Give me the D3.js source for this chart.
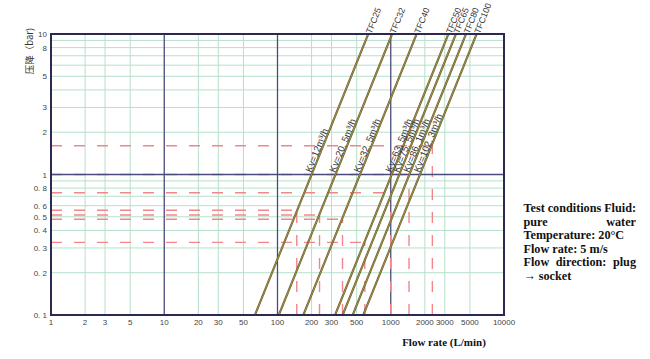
<!DOCTYPE html>
<html><head><meta charset="utf-8">
<script src="https://cdn.jsdelivr.net/npm/d3@7"></script>
<style>
html,body{margin:0;padding:0;background:#fff;}
svg{display:block;}
</style></head>
<body>
<svg id="c" width="650" height="359"></svg>
<script>
// ---- data ----
const series = ["TFC25","TFC32","TFC40","TFC50","TFC65","TFC80","TFC100"];
const kvLabels = ["Kv=12m³/h","Kv=20. 5m³/h","Kv=32. 5m³/h","Kv=63. 5m³/h","Kv=75. 5m³/h","Kv=86. 1m³/h","Kv=102. 3m³/h"];
// flow (L/min) at which each curve reaches 1 bar
const flowAt1bar = [200, 325, 535, 1020, 1190, 1460, 1810];
// rated flow (L/min) at 5 m/s and the pressure drop read at that point
const ratedFlow = [148, 235, 375, 590, 1000, 1450, 2330];
const ratedDrop = [0.556, 0.515, 0.48, 0.329, 0.742, 1.0, 1.6];
const xTickVals = [1,2,3,5,10,20,30,50,100,200,300,500,1000,2000,3000,5000,10000];
const xTickLabels = ["1","2","3","5","10","20","30","50","100","200","300","500","1000","2000","3000","5000","10000"];
const yTickVals = [0.1,0.2,0.3,0.4,0.5,0.6,0.8,1,2,3,5,8,10];
const yTickLabels = ["0. 1","0. 2","0. 3","0. 4","0. 5","0. 6","0. 8","1","2","3","5","8","10"];
const xMinorGrid = [2,3,5,20,30,50,200,300,500,2000,3000,5000];
const xMajorGrid = [10,100,1000];
const yMinorGrid = [0.2,0.3,0.4,0.5,0.6,0.7,0.8,0.9,2,3,4,5,6,7,8,9];
const yMajorGrid = [1];
const notes = [
  {words:["Test","conditions","Fluid:"], justify:true},
  {words:["pure","water"], justify:true},
  {words:["Temperature: 20°C"], justify:false},
  {words:["Flow rate: 5 m/s"], justify:false},
  {words:["Flow","direction:","plug"], justify:true},
  {words:["→ socket"], justify:false}
];

// ---- layout ----
const L=51, R=504, T=34, B=315;
const x = d3.scaleLog().domain([1,10000]).range([L,R]);
const y = d3.scaleLog().domain([0.1,10]).range([B,T]);
const svg = d3.select("#c");

svg.append("clipPath").attr("id","clip").append("rect").attr("x",L).attr("y",T).attr("width",R-L).attr("height",B-T);

const grid = svg.append("g");
grid.selectAll(".vg").data(xMinorGrid).enter().append("line")
  .attr("x1",d=>x(d)).attr("x2",d=>x(d)).attr("y1",T).attr("y2",B)
  .attr("stroke","#b6e0ca").attr("stroke-width",1);
grid.selectAll(".hg").data(yMinorGrid).enter().append("line")
  .attr("y1",d=>y(d)).attr("y2",d=>y(d)).attr("x1",L).attr("x2",R)
  .attr("stroke","#b6e0ca").attr("stroke-width",1);

// red dashed guide lines
const guides = svg.append("g").attr("clip-path","url(#clip)");
ratedFlow.forEach((q,i)=>{
  guides.append("line").attr("x1",x(1)).attr("x2",x(q)).attr("y1",y(ratedDrop[i])).attr("y2",y(ratedDrop[i]))
    .attr("stroke","#f2868b").attr("stroke-width",1.4).attr("stroke-dasharray","11,12");
  guides.append("line").attr("x1",x(q)).attr("x2",x(q)).attr("y1",y(0.1)).attr("y2",y(ratedDrop[i]))
    .attr("stroke","#f2868b").attr("stroke-width",1.4).attr("stroke-dasharray","11,12");
});

grid.selectAll(".vM").data(xMajorGrid).enter().append("line")
  .attr("x1",d=>x(d)).attr("x2",d=>x(d)).attr("y1",T).attr("y2",B)
  .attr("stroke","#4b4a7c").attr("stroke-width",1.3);
svg.append("g").selectAll("line").data(yMajorGrid).enter().append("line")
  .attr("y1",d=>y(d)).attr("y2",d=>y(d)).attr("x1",L).attr("x2",R)
  .attr("stroke","#4b4a7c").attr("stroke-width",1.3);

// curves: dP = (Q/Q1)^2
const line = d3.line().x(d=>x(d[0])).y(d=>y(d[1]));
const curves = svg.append("g").attr("clip-path","url(#clip)");
flowAt1bar.forEach((q1,i)=>{
  const pts = [[q1*Math.sqrt(0.1),0.1],[q1*Math.sqrt(10),10]];
  curves.append("path").attr("d",line(pts)).attr("fill","none")
    .attr("stroke","#6a5c2b").attr("stroke-width",2.1);
  curves.append("path").attr("d",line(pts)).attr("fill","none")
    .attr("stroke","#a6964e").attr("stroke-width",0.9);
});

// frame
svg.append("rect").attr("x",L).attr("y",T).attr("width",R-L).attr("height",B-T)
  .attr("fill","none").attr("stroke","#2b2950").attr("stroke-width",2);

// slope angle
const ang = Math.atan2(y(0.1)-y(10), x(10)-x(1)) * 180/Math.PI; // ~68
// TFC labels at top
flowAt1bar.forEach((q1,i)=>{
  const px = x(q1*Math.sqrt(10)), py = y(10);
  svg.append("text").attr("transform",`translate(${px},${py}) rotate(${-ang})`)
    .attr("x",1).attr("dy",3)
    .attr("font-family","Liberation Sans, Arial, sans-serif").attr("font-size",8.8)
    .attr("fill","#333").text(series[i]);
});
// Kv labels
flowAt1bar.forEach((q1,i)=>{
  const p = 1.02;
  const px = x(q1*Math.sqrt(p)), py = y(p);
  svg.append("text").attr("transform",`translate(${px},${py}) rotate(${-ang})`)
    .attr("dy",-1)
    .attr("font-family","Liberation Sans, Arial, sans-serif").attr("font-size",9.5)
    .attr("fill","#333").text(kvLabels[i]);
});

// axis tick labels
svg.append("g").selectAll("text").data(xTickVals).enter().append("text")
  .attr("x",d=>x(d)).attr("y",325).attr("text-anchor","middle")
  .attr("font-family","Liberation Sans, Arial, sans-serif").attr("font-size",8)
  .attr("fill","#444").text((d,i)=>xTickLabels[i]);
svg.append("g").selectAll("text").data(yTickVals).enter().append("text")
  .attr("x",47).attr("y",d=>y(d)+3).attr("text-anchor","end")
  .attr("font-family","Liberation Sans, Arial, sans-serif").attr("font-size",8)
  .attr("fill","#444").text((d,i)=>yTickLabels[i]);

// axis titles
svg.append("text").attr("transform","translate(33,51) rotate(-90)").attr("text-anchor","middle")
  .attr("font-family","Noto Sans CJK SC, sans-serif").attr("font-size",9.5).attr("fill","#333")
  .text("压降（bar)");
svg.append("text").attr("x",444).attr("y",346).attr("text-anchor","middle")
  .attr("font-family","Liberation Serif, Times New Roman, serif").attr("font-weight","bold")
  .attr("font-size",11).attr("fill","#111").text("Flow rate (L/min)");

// notes block
const nx0=523.5, nx1=636, ny0=212, nstep=13.6;
const ng = svg.append("g").attr("font-family","Liberation Serif, Times New Roman, serif")
  .attr("font-weight","bold").attr("font-size",12.2).attr("fill","#111");
notes.forEach((ln,i)=>{
  const yy = ny0 + i*nstep;
  const ts = ln.words.map(w=>ng.append("text").attr("y",yy).text(w));
  if(ln.justify && ts.length>1){
    const ws = ts.map(t=>t.node().getComputedTextLength());
    const gap = (nx1-nx0-d3.sum(ws))/(ts.length-1);
    let cx = nx0;
    ts.forEach((t,k)=>{t.attr("x",cx); cx += ws[k]+gap;});
  } else {
    ts.forEach(t=>t.attr("x",nx0));
  }
});
</script>
</body></html>
